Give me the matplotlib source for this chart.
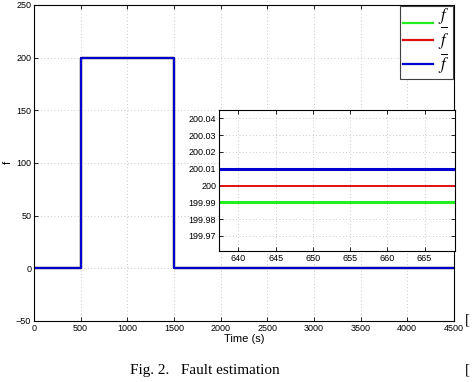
import matplotlib.pyplot as plt
import numpy as np

# fault signal (step), s
time = [0, 500, 500, 1500, 1500, 4500]
fault = [0, 0, 200, 200, 0, 0]
# lower / upper interval estimate offsets
lower_off = -0.01
upper_off = 0.01

# zoomed window
zoom_t = [637.4, 669.1]
zoom_f = [200, 200]

xticks = np.arange(0, 4501, 500)
yticks = np.arange(-50, 251, 50)
zxticks = [640, 645, 650, 655, 660, 665]
zyticks = [199.97, 199.98, 199.99, 200, 200.01, 200.02, 200.03, 200.04]
zylabels = ['199.97', '199.98', '199.99', '200', '200.01', '200.02', '200.03', '200.04']

plt.rcParams['font.family'] = 'Liberation Sans'
plt.rcParams['font.size'] = 6.5
plt.rcParams['mathtext.fontset'] = 'stix'

fig = plt.figure(figsize=(4.74, 3.82), dpi=100)
ax = fig.add_axes([0.0717, 0.160, 0.886, 0.827])

f_low = np.array(fault) + lower_off
f_up = np.array(fault) + upper_off
ax.plot(time, f_low, color='#22ee22', lw=1.6, label=r'$\dfrac{f}{\,}$')
ax.plot(time, fault, color='#e01010', lw=1.6, label=r'$f$')
ax.plot(time, f_up, color='#0000d0', lw=1.6, label=r'$\overline{f}$')
ax.set_xlim(0, 4500)
ax.set_ylim(-50, 250)
ax.set_xticks(xticks)
ax.set_yticks(yticks)
ax.tick_params(direction='in', top=True, right=True, length=3, width=0.6, pad=2)
ax.grid(True, linestyle=(0, (1, 3)), color='#b8b8b8', lw=0.6)
for s in ax.spines.values():
    s.set_linewidth(0.8)
ax.set_xlabel('Time (s)', fontsize=8, labelpad=1)
ax.set_ylabel('f', fontsize=8, labelpad=2)

leg = ax.legend(loc='upper right', fontsize=12, handlelength=1.8, framealpha=1,
                fancybox=False, edgecolor='#404040', borderaxespad=0.05,
                labelspacing=0.0, borderpad=0.2, handletextpad=0.3)
leg.get_frame().set_linewidth(0.8)

ins = fig.add_axes([0.462, 0.343, 0.498, 0.369])
ins.plot(zoom_t, np.array(zoom_f) + upper_off, color='#0000d0', lw=2.2)
ins.plot(zoom_t, zoom_f, color='#e01010', lw=1.4)
ins.plot(zoom_t, np.array(zoom_f) + lower_off, color='#22ee22', lw=2.2)
ins.set_xlim(637.4, 669.1)
ins.set_ylim(199.961, 200.045)
ins.set_xticks(zxticks)
ins.set_yticks(zyticks)
ins.set_yticklabels(zylabels)
ins.tick_params(direction='in', top=True, right=True, length=3, width=0.6, pad=2)
ins.grid(True, linestyle=(0, (1, 3)), color='#b8b8b8', lw=0.6)
for s in ins.spines.values():
    s.set_linewidth(0.8)

fig.text(0.432, 0.031, 'Fig. 2.   Fault estimation', fontsize=11,
         family='Liberation Serif', ha='center', va='center')
fig.text(0.985, 0.163, '[', fontsize=11, family='Liberation Serif', ha='center', va='center')
fig.text(0.985, 0.031, '[', fontsize=11, family='Liberation Serif', ha='center', va='center')

fig.savefig('out.png', dpi=100)
